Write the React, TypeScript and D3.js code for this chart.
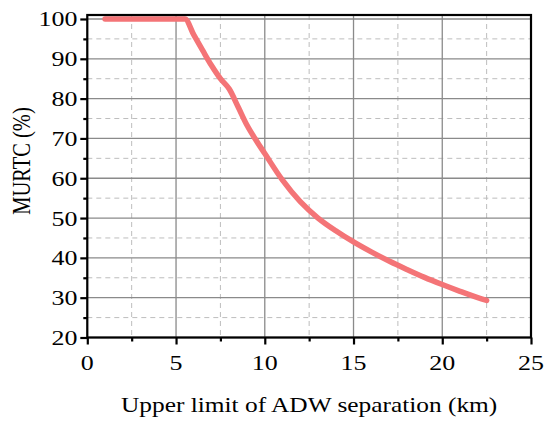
import { useEffect, useRef } from "react";
import * as d3 from "d3";

// upper limit of ADW separation (km) and MURTC (%)
const separationKm = [1, 5.5, 6, 6.5, 7, 7.5, 8, 8.5, 9, 9.5, 10, 11, 12, 13, 14, 15, 16, 17, 18, 19, 20, 21, 22, 22.5];
const murtc = [100, 100, 96, 92.1, 88.3, 85, 82.4, 77.9, 73.3, 69.6, 66.2, 59.5, 54.1, 50.0, 46.8, 44.0, 41.5, 39.2, 37.1, 35.1, 33.3, 31.6, 30.0, 29.3];

const xMajor = [0, 5, 10, 15, 20, 25];
const xMinor = [2.5, 7.5, 12.5, 17.5, 22.5];
const yMajor = [20, 30, 40, 50, 60, 70, 80, 90, 100];
const yMinor = [25, 35, 45, 55, 65, 75, 85, 95];

const xTitle = "Upper limit of ADW separation (km)";
const yTitle = "MURTC (%)";

const W = 550;
const H = 425;
const FONT = "Liberation Serif, Times New Roman, serif";
// the original picture is a little stretched sideways, text included
const SX = 1.18;

export default function App() {
  const ref = useRef<SVGSVGElement | null>(null);

  useEffect(() => {
    document.body.style.margin = "0";
    if (!ref.current) return;
    const svg = d3.select(ref.current);
    svg.selectAll("*").remove();

    const m = { l: 87.3, r: 531, t: 15, b: 337.5 };
    const x = d3.scaleLinear().domain([0, 25]).range([m.l, m.r]);
    const y = d3.scaleLinear().domain([20, 101]).range([m.b, m.t]);

    svg.append("rect").attr("width", W).attr("height", H).attr("fill", "#fff");

    // ── Grid ───────────────────────────────────────────────────────────────
    const grid = svg.append("g");
    const vLines = (vals: number[], cls: string) =>
      grid
        .selectAll(`line.${cls}`)
        .data(vals)
        .enter()
        .append("line")
        .attr("class", cls)
        .attr("x1", (d) => x(d))
        .attr("x2", (d) => x(d))
        .attr("y1", m.t)
        .attr("y2", m.b);
    const hLines = (vals: number[], cls: string) =>
      grid
        .selectAll(`line.${cls}`)
        .data(vals)
        .enter()
        .append("line")
        .attr("class", cls)
        .attr("x1", m.l)
        .attr("x2", m.r)
        .attr("y1", (d) => y(d))
        .attr("y2", (d) => y(d));

    vLines(xMinor, "xmin").attr("stroke", "#bdbdbd").attr("stroke-width", 1).attr("stroke-dasharray", "5,4");
    hLines(yMinor, "ymin").attr("stroke", "#bdbdbd").attr("stroke-width", 1).attr("stroke-dasharray", "5,4");
    vLines(xMajor, "xmaj").attr("stroke", "#8a8a8a").attr("stroke-width", 1.3);
    hLines(yMajor, "ymaj").attr("stroke", "#8a8a8a").attr("stroke-width", 1.3);

    // ── Curve ──────────────────────────────────────────────────────────────
    const pts = separationKm.map((k, i) => [k, murtc[i]] as [number, number]);
    const line = d3
      .line<[number, number]>()
      .x((d) => x(d[0]))
      .y((d) => y(d[1]))
      .curve(d3.curveMonotoneX);
    svg
      .append("path")
      .attr("d", line(pts))
      .attr("fill", "none")
      .attr("stroke", "#F47477")
      .attr("stroke-width", 5.5)
      .attr("stroke-linecap", "round")
      .attr("stroke-linejoin", "round");

    // ── Frame ──────────────────────────────────────────────────────────────
    svg
      .append("rect")
      .attr("x", m.l)
      .attr("y", m.t)
      .attr("width", m.r - m.l)
      .attr("height", m.b - m.t)
      .attr("fill", "none")
      .attr("stroke", "#000")
      .attr("stroke-width", 2.2);

    // ── Ticks ──────────────────────────────────────────────────────────────
    const styleTicks = (g: d3.Selection<SVGGElement, unknown, null, undefined>) => {
      g.select(".domain").remove();
      g.selectAll("text").remove();
      g.selectAll("line").attr("stroke", "#000").attr("stroke-width", 2.2);
    };
    svg
      .append("g")
      .attr("transform", `translate(0,${m.b})`)
      .call(d3.axisBottom(x).tickValues(xMinor).tickSize(4))
      .call(styleTicks);
    svg
      .append("g")
      .attr("transform", `translate(0,${m.b})`)
      .call(d3.axisBottom(x).tickValues(xMajor).tickSize(7))
      .call(styleTicks);
    svg
      .append("g")
      .attr("transform", `translate(${m.l},0)`)
      .call(d3.axisLeft(y).tickValues(yMinor).tickSize(4))
      .call(styleTicks);
    svg
      .append("g")
      .attr("transform", `translate(${m.l},0)`)
      .call(d3.axisLeft(y).tickValues(yMajor).tickSize(7))
      .call(styleTicks);

    // ── Tick labels ────────────────────────────────────────────────────────
    svg
      .append("g")
      .selectAll("text")
      .data(xMajor)
      .enter()
      .append("text")
      .attr("transform", (d) => `translate(${x(d)},370) scale(${SX},1)`)
      .attr("text-anchor", "middle")
      .attr("font-family", FONT)
      .attr("font-size", 22)
      .text((d) => String(d));
    svg
      .append("g")
      .selectAll("text")
      .data(yMajor)
      .enter()
      .append("text")
      .attr("transform", (d) => `translate(77.5,${y(d)}) scale(${SX},1)`)
      .attr("text-anchor", "end")
      .attr("dy", "0.34em")
      .attr("font-family", FONT)
      .attr("font-size", 22)
      .text((d) => String(d));

    // ── Titles ─────────────────────────────────────────────────────────────
    svg
      .append("text")
      .attr("transform", `translate(${(m.l + m.r) / 2},412) scale(${SX},1)`)
      .attr("text-anchor", "middle")
      .attr("font-family", FONT)
      .attr("font-size", 21.5)
      .text(xTitle);
    svg
      .append("text")
      .attr("transform", `translate(30,161) scale(${SX},1) rotate(-90)`)
      .attr("text-anchor", "middle")
      .attr("font-family", FONT)
      .attr("font-size", 20.5)
      .text(yTitle);
  }, []);

  return <svg ref={ref} width={W} height={H} style={{ display: "block" }} />;
}
